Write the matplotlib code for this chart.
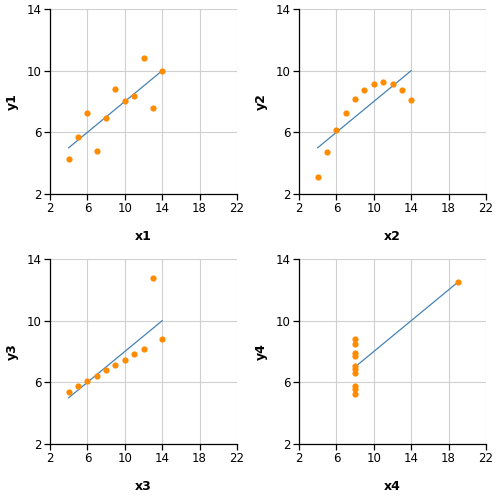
import numpy as np
import matplotlib
matplotlib.use('Agg')
import matplotlib.pyplot as plt

# Anscombe's quartet
x123 = [10, 8, 13, 9, 11, 14, 6, 4, 12, 7, 5]
x4 = [8, 8, 8, 8, 8, 8, 8, 19, 8, 8, 8]
y1 = [8.04, 6.95, 7.58, 8.81, 8.33, 9.96, 7.24, 4.26, 10.84, 4.82, 5.68]
y2 = [9.14, 8.14, 8.74, 8.77, 9.26, 8.10, 6.13, 3.10, 9.13, 7.26, 4.74]
y3 = [7.46, 6.77, 12.74, 7.11, 7.81, 8.84, 6.08, 5.39, 8.15, 6.42, 5.73]
y4 = [6.58, 5.76, 7.71, 8.84, 8.47, 7.04, 5.25, 12.50, 5.56, 7.91, 6.89]

xticks = [2, 6, 10, 14, 18, 22]
yticks = [2, 6, 10, 14]

panels = [
    ("x1", "y1", x123, y1),
    ("x2", "y2", x123, y2),
    ("x3", "y3", x123, y3),
    ("x4", "y4", x4, y4),
]

W, H = 497, 499
fig = plt.figure(figsize=(W / 100, H / 100), dpi=100)

# pixel boxes (left, top) for each panel
origins = [(50, 9), (299, 9), (50, 259), (299, 259)]
aw, ah = 187, 185

for (xl, yl, xs, ys), (px, py) in zip(panels, origins):
    ax = fig.add_axes([px / W, 1 - (py + ah) / H, aw / W, ah / H])
    ax.set_xlim(2, 22)
    ax.set_ylim(2, 14)
    ax.set_xticks(xticks)
    ax.set_yticks(yticks)
    ax.grid(True, color='#d0d0d0', linewidth=0.8)
    ax.set_axisbelow(True)
    for s in ['top', 'right']:
        ax.spines[s].set_visible(False)
    for s in ['left', 'bottom']:
        ax.spines[s].set_linewidth(0.9)
        ax.spines[s].set_color('black')
    ax.tick_params(length=4, width=0.9, labelsize=8.5, pad=2)

    xs = np.array(xs, dtype=float)
    ys = np.array(ys, dtype=float)
    slope, icpt = np.polyfit(xs, ys, 1)
    lx = np.array([xs.min(), xs.max()])
    ax.plot(lx, icpt + slope * lx, color='#4682b4', linewidth=0.9, zorder=2)
    ax.scatter(xs, ys, s=20, color='#ff8c00', linewidths=0, zorder=3)

    ax.set_xlabel(xl, fontsize=9, fontweight='bold')
    ax.set_ylabel(yl, fontsize=9, fontweight='bold')
    ax.xaxis.set_label_coords(0.5, -42 / ah, transform=ax.transAxes)
    ax.yaxis.set_label_coords(-38 / aw, 0.5, transform=ax.transAxes)
    ax.xaxis.label.set_va('center')
    ax.yaxis.label.set_va('center')

fig.savefig('out.png', dpi=100)
plt.close(fig)
